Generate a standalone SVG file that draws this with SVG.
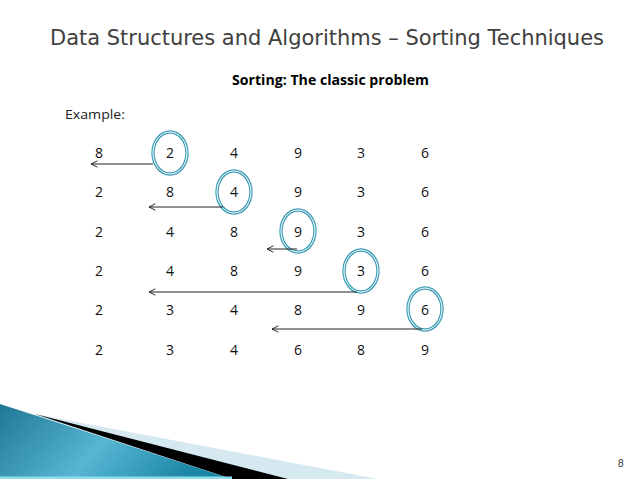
<svg xmlns="http://www.w3.org/2000/svg" width="638" height="479" viewBox="0 0 638 479">
<defs>
<style>
.title{font-family:"DejaVu Sans","Liberation Sans",sans-serif;font-size:22px;fill:#404040}
.sub{font-family:"Open Sans","Liberation Sans",sans-serif;font-size:15px;font-weight:bold;fill:#000}
.lbl{font-family:"Open Sans","Liberation Sans",sans-serif;font-size:13.5px;fill:#222}
.num{font-family:"Open Sans","Liberation Sans",sans-serif;font-size:14px;fill:#111;text-anchor:middle}
.pg{font-family:"Liberation Sans",sans-serif;font-size:10px;fill:#333}
.ring{fill:none;stroke:#3d9db6;stroke-width:3.4}
.ringin{fill:none;stroke:#fff;stroke-width:1}
.arr{fill:none;stroke:#222;stroke-width:1;marker-start:url(#ah)}
</style>
<marker id="ah" viewBox="0 0 10 10" refX="1" refY="5" markerWidth="8" markerHeight="8" markerUnits="userSpaceOnUse" orient="auto">
<path d="M9,1 L1,5 L9,9" fill="none" stroke="#222" stroke-width="1.2"/>
</marker>
<linearGradient id="blue" x1="0" y1="0" x2="1" y2="0.3">
<stop offset="0" stop-color="#1f7895"/>
<stop offset="0.55" stop-color="#56b6d3"/>
<stop offset="1" stop-color="#1c86a6"/>
</linearGradient>
</defs>
<rect width="638" height="479" fill="#fff"/>
<g id="decor">
<polygon points="35,414 378,479 0,479" fill="#d6e9f1"/>
<polygon points="35,414 288,479 232,479" fill="#000"/>
<polygon points="0,404 232,479 0,479" fill="url(#blue)"/>
<rect x="0" y="476.5" width="232" height="2.5" fill="#8fdcec"/>
</g>
<text class="title" x="50" y="45" textLength="554" lengthAdjust="spacingAndGlyphs">Data Structures and Algorithms – Sorting Techniques</text>
<text class="sub" x="232" y="85" textLength="197" lengthAdjust="spacingAndGlyphs">Sorting: The classic problem</text>
<text class="lbl" x="65" y="119" textLength="60" lengthAdjust="spacingAndGlyphs">Example:</text>
<g id="rings">
<g id="ring1"><ellipse class="ring" cx="170" cy="153" rx="17" ry="21"/><ellipse class="ringin" cx="170" cy="153" rx="17" ry="21"/></g>
<g id="ring2"><ellipse class="ring" cx="234" cy="192" rx="17" ry="21"/><ellipse class="ringin" cx="234" cy="192" rx="17" ry="21"/></g>
<g id="ring3"><ellipse class="ring" cx="298" cy="231" rx="17" ry="21"/><ellipse class="ringin" cx="298" cy="231" rx="17" ry="21"/></g>
<g id="ring4"><ellipse class="ring" cx="361" cy="271" rx="17" ry="21"/><ellipse class="ringin" cx="361" cy="271" rx="17" ry="21"/></g>
<g id="ring5"><ellipse class="ring" cx="425" cy="309" rx="17" ry="21"/><ellipse class="ringin" cx="425" cy="309" rx="17" ry="21"/></g>
</g>
<g id="numbers">
<g id="row1"><text class="num" x="99" y="158">8</text><text class="num" x="170" y="158">2</text><text class="num" x="234" y="158">4</text><text class="num" x="298" y="158">9</text><text class="num" x="361" y="158">3</text><text class="num" x="425" y="158">6</text></g>
<g id="row2"><text class="num" x="99" y="197">2</text><text class="num" x="170" y="197">8</text><text class="num" x="234" y="197">4</text><text class="num" x="298" y="197">9</text><text class="num" x="361" y="197">3</text><text class="num" x="425" y="197">6</text></g>
<g id="row3"><text class="num" x="99" y="237">2</text><text class="num" x="170" y="237">4</text><text class="num" x="234" y="237">8</text><text class="num" x="298" y="237">9</text><text class="num" x="361" y="237">3</text><text class="num" x="425" y="237">6</text></g>
<g id="row4"><text class="num" x="99" y="276">2</text><text class="num" x="170" y="276">4</text><text class="num" x="234" y="276">8</text><text class="num" x="298" y="276">9</text><text class="num" x="361" y="276">3</text><text class="num" x="425" y="276">6</text></g>
<g id="row5"><text class="num" x="99" y="315">2</text><text class="num" x="170" y="315">3</text><text class="num" x="234" y="315">4</text><text class="num" x="298" y="315">8</text><text class="num" x="361" y="315">9</text><text class="num" x="425" y="315">6</text></g>
<g id="row6"><text class="num" x="99" y="355">2</text><text class="num" x="170" y="355">3</text><text class="num" x="234" y="355">4</text><text class="num" x="298" y="355">6</text><text class="num" x="361" y="355">8</text><text class="num" x="425" y="355">9</text></g>
</g>
<g id="connectors">
<line class="arr" x1="91" y1="164" x2="153" y2="164"/>
<line class="arr" x1="149" y1="207" x2="223" y2="207"/>
<line class="arr" x1="267" y1="249" x2="297" y2="249"/>
<line class="arr" x1="149" y1="292" x2="357" y2="292"/>
<line class="arr" x1="272" y1="329" x2="422" y2="329"/>
</g>
<text class="pg" x="618" y="467">8</text>
</svg>
